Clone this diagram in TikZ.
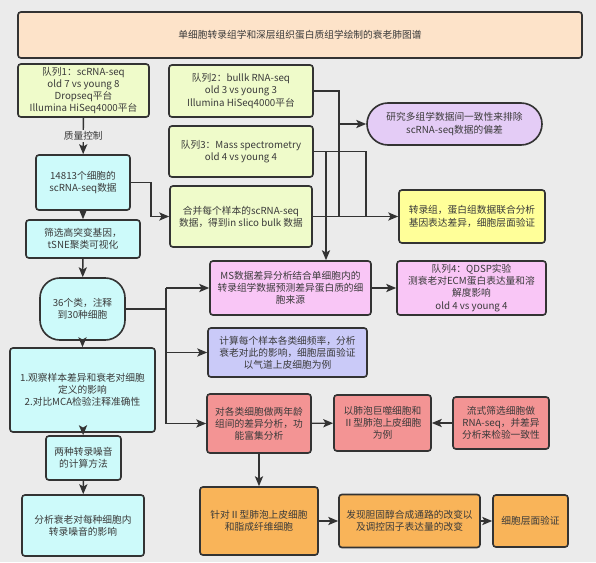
\documentclass[tikz,border=0pt]{standalone}
\usepackage{fontspec}
\setmainfont{Noto Sans CJK SC}
\usetikzlibrary{arrows.meta}

\definecolor{bgc}{HTML}{EBEBEB}
\definecolor{edgec}{HTML}{333333}
\definecolor{txtc}{HTML}{3A3A3A}
\definecolor{titlec}{HTML}{FDE3C9}
\definecolor{greenc}{HTML}{EFFBCA}
\definecolor{cyanc}{HTML}{CDFAFA}
\definecolor{lilac}{HTML}{E4CCF6}
\definecolor{yellowc}{HTML}{FFFF99}
\definecolor{pinkc}{HTML}{F9C6F6}
\definecolor{bluec}{HTML}{CACAF8}
\definecolor{salmon}{HTML}{F39494}
\definecolor{orangec}{HTML}{F9B459}

\tikzset{
  box/.style={draw=edgec, line width=1.4pt, rounded corners=2.5pt, align=center,
    inner sep=0pt, text=txtc, font=\fontsize{8.3}{10.4}\selectfont},
  wh/.style 2 args={minimum width=#1*0.03cm, minimum height=#2*0.03cm},
  ln/.style={draw=edgec, line width=1.2pt},
  arr/.style={ln, -{Stealth[length=8.5pt, width=7pt, inset=2pt]}},
  lbl/.style={fill=bgc, text=txtc, inner sep=1.5pt, font=\fontsize{8.3}{10.4}\selectfont},
}

\begin{document}
\begin{tikzpicture}[x=0.03cm, y=-0.03cm]
\fill[bgc] (0,0) rectangle (596,562);

\node[box, wh={564}{46}, fill=titlec] (title) at (300,35) {单细胞转录组学和深层组织蛋白质组学绘制的衰老肺图谱};

% left column
\node[box, wh={131}{53}, fill=greenc] (q1) at (83.5,90.5) {队列1：scRNA-seq\\old 7 vs young 8\\Dropseq平台\\Illumina HiSeq4000平台};
\node[box, wh={94}{55}, fill=cyanc] (cells) at (83,182.5) {14813个细胞的\\scRNA-seq数据};
\node[box, wh={114}{38}, fill=cyanc] (tsne) at (83,239) {筛选高突变基因，\\tSNE聚类可视化};
\node[box, wh={85}{62}, fill=cyanc, rounded corners=17pt] (clus) at (82.5,309) {36个类，注释\\到30种细胞};
\node[box, wh={145}{84}, fill=cyanc] (obs) at (82.5,390) {1.观察样本差异和衰老对细胞\\定义的影响\\2.对比MCA检验注释准确性};
\node[box, wh={75}{44}, fill=cyanc] (noise) at (83.5,458) {两种转录噪音\\的计算方法};
\node[box, wh={122}{61}, fill=cyanc] (noiseage) at (83,525.5) {分析衰老对每种细胞内\\转录噪音的影响};

% middle and right
\node[box, wh={144}{52}, fill=greenc] (q2) at (241,91) {队列2：bullk RNA-seq\\old 3 vs young 3\\Illumina HiSeq4000平台};
\node[box, wh={144}{51}, fill=greenc] (q3) at (241,151.5) {队列3：Mass spectrometry\\old 4 vs young 4};
\node[box, wh={142}{61}, fill=greenc] (merge) at (241,216.5) {合并每个样本的scRNA-seq\\数据，得到in slico bulk 数据};
\node[box, wh={175}{42}, fill=lilac, rounded corners=18pt] (bias) at (454.5,124) {研究多组学数据间一致性来排除\\scRNA-seq数据的偏差};
\node[box, wh={146}{53}, fill=yellowc] (joint) at (472,216.5) {转录组，蛋白组数据联合分析\\基因表达差异，细胞层面验证};
\node[box, wh={161}{54}, fill=pinkc] (ms) at (290.5,288) {MS数据差异分析结合单细胞内的\\转录组学数据预测差异蛋白质的细\\胞来源};
\node[box, wh={149}{54}, fill=pinkc] (q4) at (471.5,288) {队列4：QDSP实验\\测衰老对ECM蛋白表达量和溶\\解度影响\\old 4 vs young 4};
\node[box, wh={159}{49}, fill=bluec] (freq) at (287.5,352.5) {计算每个样本各类细频率，分析\\衰老对此的影响，细胞层面验证\\以气道上皮细胞为例};
\node[box, wh={104}{59}, fill=salmon] (deg) at (259,423.5) {对各类细胞做两年龄\\组间的差异分析，功\\能富集分析};
\node[box, wh={97}{56}, fill=salmon] (amac) at (382.5,423) {以肺泡巨噬细胞和\\Ⅱ型肺泡上皮细胞\\为例};
\node[box, wh={96}{52}, fill=salmon] (facs) at (501,423) {流式筛选细胞做\\RNA-seq，并差异\\分析来检验一致性};
\node[box, wh={118}{68}, fill=orangec] (at2) at (259,521) {针对Ⅱ型肺泡上皮细胞\\和脂成纤维细胞};
\node[box, wh={141}{53}, fill=orangec] (chol) at (409.5,521) {发现胆固醇合成通路的改变以\\及调控因子表达量的改变};
\node[box, wh={75}{52}, fill=orangec] (valid) at (530.5,521) {细胞层面验证};

% junctions
\coordinate (jq2) at (339,216.5);
\coordinate (jq3) at (366,216.5);
\coordinate (jms) at (326,151.5);
\coordinate (jcl) at (166,309);

% left chain
\draw[arr] (q1) -- node[lbl] (qc) {质量控制} (cells);
\draw[arr] (cells) -- (tsne);
\draw[arr] (tsne) -- (clus);
\draw[arr] (clus) -- (obs);
\draw[arr] (obs) -- (noise);
\draw[arr] (noise) -- (noiseage);
\draw[arr] (cells.east) -- ++(20,0) |- (merge.west);

% bulk / proteome
\draw[ln] (q2.east) -| (jq2);
\draw[ln] (q3.east) -| (jq3);
\draw[arr] (jq2 |- bias.west) -- (bias.west);
\draw[arr] (merge.east) -- (joint.west);
\draw[arr] (jms) -- (jms |- ms.north);

% from clusters
\draw[ln] (clus.east) -- (jcl);
\draw[ln] (jcl |- ms.west) -- (jcl |- deg.west);
\draw[arr] (jcl |- ms.west) -- (ms.west);
\draw[arr] (jcl |- freq.west) -- (freq.west);
\draw[arr] (jcl |- deg.west) -- (deg.west);

\draw[arr] (ms) -- (q4);
\draw[arr] (deg) -- (amac);
\draw[arr] (facs) -- (amac);
\draw[arr] (deg) -- (at2);
\draw[arr] (at2) -- (chol);
\draw[arr] (chol) -- (valid);
\end{tikzpicture}
\end{document}
